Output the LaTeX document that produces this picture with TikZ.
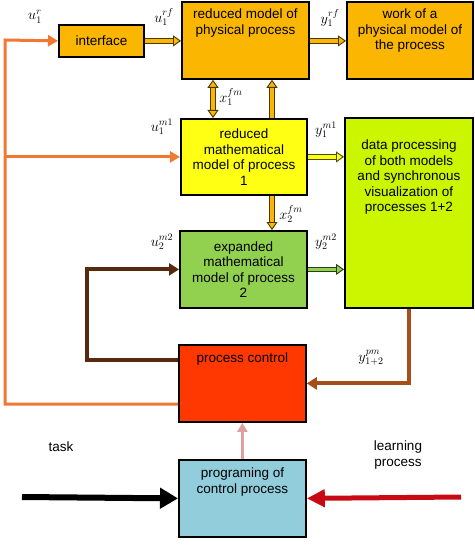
\documentclass[tikz,border=0pt]{standalone}
\usepackage{fontspec}
\setmainfont{Liberation Sans}
\usetikzlibrary{
  arrows.meta,
  positioning
}
\definecolor{amber}{RGB}{250,182,0}
\definecolor{lemon}{RGB}{255,255,20}
\definecolor{lime}{RGB}{204,245,0}
\definecolor{leaf}{RGB}{146,208,80}
\definecolor{scarlet}{RGB}{255,55,0}
\definecolor{sky}{RGB}{146,205,220}
\definecolor{feedline}{RGB}{242,120,50}
\definecolor{darkbrown}{RGB}{88,40,15}
\definecolor{rust}{RGB}{165,78,25}
\definecolor{rose}{RGB}{225,158,158}
\definecolor{crimson}{RGB}{200,10,20}
\tikzset{
  blk/.style={draw=black, line width=1.8pt, inner sep=0pt, anchor=north west,
    align=center, font=\fontsize{13.5}{15.5}\selectfont},
  txt/.style={align=center, inner sep=0pt, font=\fontsize{13.5}{15.5}\selectfont},
  lbl/.style={inner sep=0pt, font=\fontsize{14}{16}\selectfont},
  hollow/.style={draw=#1!30!black, line width=0.9pt, double=#1, double distance=3.5pt,
    -{Triangle[length=8pt,width=11pt,fill=#1]}},
  hollow2/.style={hollow=#1, {Triangle[length=8pt,width=11pt,fill=#1]}-{Triangle[length=8pt,width=11pt,fill=#1]}},
  feed/.style={line width=3pt, draw=feedline, -{Triangle[length=10pt,width=11pt]}}
}

\begin{document}
\begin{tikzpicture}[x=1pt, y=-1pt]
  \useasboundingbox (0,0) rectangle (474,553);
  \coordinate (oT) at (5,40);
  \coordinate (oB) at (5,404);
  \coordinate (bL) at (87,360);
  \coordinate (dA) at (213,0);
  \coordinate (dB) at (272,0);
  \coordinate (tk) at (22,497);
  \coordinate (lp) at (461,497);

  % boxes
  \node[blk, fill=amber, minimum width=85pt, minimum height=32pt] (iface) at (58,24) {interface};
  \node[blk, fill=amber, minimum width=127pt, minimum height=77pt] (phys) at (181,1) {};
  \node[txt, below=8pt of phys.north] (physT) {reduced model of\\physical process};
  \node[blk, fill=amber, minimum width=126pt, minimum height=77pt] (work) at (346,1) {};
  \node[txt, below=8pt of work.north] (workT) {work of a\\physical model of\\the process};
  \node[blk, fill=lemon, minimum width=126pt, minimum height=76pt] (math1) at (180,118)
    {reduced\\mathematical\\model of process\\1};
  \node[blk, fill=lime, minimum width=128pt, minimum height=190pt] (data) at (344,117) {};
  \node[txt, below=23pt of data.north] (dataT)
    {data processing\\of both models\\and synchronous\\visualization of\\processes 1+2};
  \node[blk, fill=leaf, minimum width=127pt, minimum height=77pt] (exp2) at (179,230)
    {expanded\\mathematical\\model of process\\2};
  \node[blk, fill=scarlet, minimum width=127pt, minimum height=77pt] (ctrl) at (178,344) {};
  \node[txt, below=9pt of ctrl.north] (ctrlT) {process control};
  \node[blk, fill=sky, minimum width=127pt, minimum height=77pt] (prog) at (178,459) {};
  \node[txt, below=9pt of prog.north] (progT) {programing of\\control process};

  % model arrows
  \draw[hollow=amber] (iface.east) -- (iface.east -| phys.west);
  \draw[hollow=amber] (phys.east |- iface.east) -- (iface.east -| work.west);
  \draw[hollow2=amber] (phys.south -| dA) -- (math1.north -| dA);
  \draw[hollow=amber] (math1.north -| dB) -- (phys.south -| dB);
  \draw[hollow=amber] (math1.south -| dB) -- (exp2.north -| dB);
  \draw[hollow=lemon] (math1.east) -- (math1.east -| data.west);
  \draw[hollow=leaf] (exp2.east) -- (exp2.east -| data.west);

  % feedback lines
  \draw[feed] (oB -| ctrl.west) -- (oB) -- (oT) -- (iface.west);
  \draw[feed] (oT |- math1.west) -- (math1.west);
  \draw[line width=4pt, draw=darkbrown, -{Triangle[length=10pt,width=12pt]}]
    (bL -| ctrl.west) -- (bL) |- (exp2.west);
  \draw[line width=4pt, draw=rust, -{Triangle[length=10pt,width=12pt]}]
    (data.south) |- (ctrl.east);
  \draw[line width=3.5pt, draw=rose, -{Triangle[length=9pt,width=10pt]}]
    (prog.north) -- (ctrl.south);
  \draw[line width=6pt, draw=black, -{Triangle[length=18pt,width=20pt]}]
    (tk) -- (prog.west);
  \draw[line width=5pt, draw=crimson, -{Triangle[length=18pt,width=17pt]}]
    (lp) -- (prog.east);

  % labels
  \node[lbl] (lUr) at (35,17) {$u_1^{r}$};
  \node[lbl] (lUrf) at (164,17) {$u_1^{rf}$};
  \node[lbl] (lYrf) at (330,18) {$y_1^{rf}$};
  \node[lbl] (lX1) at (231,97) {$x_1^{fm}$};
  \node[lbl] (lUm1) at (162,127) {$u_1^{m1}$};
  \node[lbl] (lYm1) at (326,130) {$y_1^{m1}$};
  \node[lbl] (lX2) at (291,214) {$x_2^{fm}$};
  \node[lbl] (lUm2) at (162,242) {$u_2^{m2}$};
  \node[lbl] (lYm2) at (326,242) {$y_2^{m2}$};
  \node[lbl] (lYpm) at (371,358) {$y_{1+2}^{pm}$};
  \node[txt] (task) at (61,447) {task};
  \node[txt] (learn) at (398,455) {learning\\process};
\end{tikzpicture}
\end{document}
